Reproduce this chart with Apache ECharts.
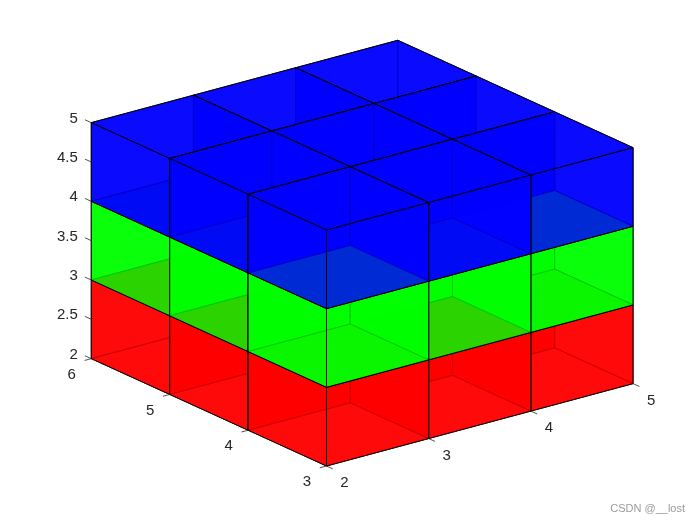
<!DOCTYPE html>
<html><head><meta charset="utf-8">
<script src="https://cdn.jsdelivr.net/npm/echarts@6/dist/echarts.min.js"></script>
<style>html,body{margin:0;padding:0;background:#fff}#chart{width:700px;height:525px}</style>
</head><body><div id="chart"></div>
<script>
// ---------- data ----------
const xEdges = [2, 3, 4, 5];          // cube boundaries along x
const yEdges = [3, 4, 5, 6];          // cube boundaries along y
const layerZ = [2, 3, 4, 5];          // layer boundaries along z
const layerColors = ['#ff0000', '#00ff00', '#0000ff'];
const xTicks = [2, 3, 4, 5];
const yTicks = [3, 4, 5, 6];
const zTicks = [2, 2.5, 3, 3.5, 4, 4.5, 5];
const xTickLabels = ['2', '3', '4', '5'];
const yTickLabels = ['3', '4', '5', '6'];
const zTickLabels = ['2', '2.5', '3', '3.5', '4', '4.5', '5'];

// ---------- rendering (draw order of coplanar faces between layers, per cell [ix][iy]) ----------
// 1 = top face of the lower layer drawn last, 0 = bottom face of the upper layer drawn last
const seamOrder = {
  1: [[0, 1, 1], [1, 0, 0], [0, 0, 0]],
  2: [[1, 0, 0], [0, 0, 0], [1, 0, 0]]
};

// ---------- view ----------
const AZ = -37.5, EL = 20.5, SCALE = 128.8, ZASPECT = 0.652;
const FACE_ALPHA = 0.8;
const ORIGIN_PX = [326.5, 466];
const TICK_LEN = 7;
const FONT = '15px "Liberation Sans", Arial, Helvetica, sans-serif';
const TXT = '#262626';

const ar = AZ * Math.PI / 180, er = EL * Math.PI / 180;
const ca = Math.cos(ar), sa = Math.sin(ar), ce = Math.cos(er), se = Math.sin(er);
const X0 = xEdges[0], Y0 = yEdges[0], Z0 = layerZ[0];
const XMAX = xEdges[xEdges.length - 1], YMAX = yEdges[yEdges.length - 1], ZMAX = layerZ[layerZ.length - 1];

function project(p) {
  const dx = p[0] - X0, dy = p[1] - Y0, dz = (p[2] - Z0) * ZASPECT;
  return [SCALE * (ca * dx + sa * dy), SCALE * (-sa * se * dx + ca * se * dy + ce * dz)];
}
const D = [sa * ce, -ca * ce, se]; // toward viewer (scaled space)
function depth(p) {
  return D[0] * (p[0] - X0) + D[1] * (p[1] - Y0) + D[2] * (p[2] - Z0) * ZASPECT;
}
function rgba(hex, a) {
  const n = parseInt(hex.slice(1), 16);
  return 'rgba(' + (n >> 16 & 255) + ',' + (n >> 8 & 255) + ',' + (n & 255) + ',' + a + ')';
}

// ---------- faces ----------
const faces = [];
const nL = layerColors.length;
for (let l = 0; l < nL; l++)
  for (let i = 0; i < xEdges.length - 1; i++)
    for (let j = 0; j < yEdges.length - 1; j++) {
      const x0 = xEdges[i], x1 = xEdges[i + 1], y0 = yEdges[j], y1 = yEdges[j + 1], z0 = layerZ[l], z1 = layerZ[l + 1];
      const quads = [
        { n: [-1, 0, 0], p: [[x0, y0, z0], [x0, y1, z0], [x0, y1, z1], [x0, y0, z1]] },
        { n: [1, 0, 0], p: [[x1, y0, z0], [x1, y1, z0], [x1, y1, z1], [x1, y0, z1]] },
        { n: [0, -1, 0], p: [[x0, y0, z0], [x1, y0, z0], [x1, y0, z1], [x0, y0, z1]] },
        { n: [0, 1, 0], p: [[x0, y1, z0], [x1, y1, z0], [x1, y1, z1], [x0, y1, z1]] },
        { n: [0, 0, -1], p: [[x0, y0, z0], [x1, y0, z0], [x1, y1, z0], [x0, y1, z0]] },
        { n: [0, 0, 1], p: [[x0, y0, z1], [x1, y0, z1], [x1, y1, z1], [x0, y1, z1]] }
      ];
      quads.forEach(q => {
        const c = [0, 1, 2].map(k => (q.p[0][k] + q.p[1][k] + q.p[2][k] + q.p[3][k]) / 4);
        let tie = D[0] * q.n[0] + D[1] * q.n[1] + D[2] * q.n[2];
        if (q.n[2] === 1 && l < nL - 1) tie = seamOrder[l + 1][i][j] ? 1 : -1;
        if (q.n[2] === -1 && l > 0) tie = seamOrder[l][i][j] ? -1 : 1;
        faces.push({ pts: q.p, color: layerColors[l], d: depth(c) + 1e-3 * tie, c: c });
      });
    }
faces.sort((a, b) => a.d - b.d);

// ---------- extents ----------
const corners = [];
[X0, XMAX].forEach(x => [Y0, YMAX].forEach(y => [Z0, ZMAX].forEach(z => corners.push(project([x, y, z])))));
const uMin = Math.min(...corners.map(c => c[0])), uMax = Math.max(...corners.map(c => c[0]));
const vMin = Math.min(...corners.map(c => c[1])), vMax = Math.max(...corners.map(c => c[1]));

// ---------- ticks ----------
function dirPx(vec) {
  const a = project([X0, Y0, Z0]), b = project([X0 + vec[0], Y0 + vec[1], Z0 + vec[2]]);
  const dx = b[0] - a[0], dy = -(b[1] - a[1]); const L = Math.hypot(dx, dy);
  return [dx / L, dy / L];
}
const ticks = [];
xTicks.forEach((t, k) => ticks.push({ p: [t, Y0, Z0], dir: dirPx([0, -1, 0]), label: xTickLabels[k], off: [18, 17], align: 'center' }));
yTicks.forEach((t, k) => ticks.push({ p: [X0, t, Z0], dir: dirPx([-1, 0, 0]), label: yTickLabels[k], off: [-19.5, 16], align: 'center' }));
zTicks.forEach((t, k) => ticks.push({ p: [X0, YMAX, t], dir: dirPx([0, 1, 0]), label: zTickLabels[k], off: [-13.5, -4], align: 'right' }));

const chart = echarts.init(document.getElementById('chart'), null, { renderer: 'canvas' });
chart.setOption({
  animation: false,
  backgroundColor: '#fff',
  grid: { left: ORIGIN_PX[0] + uMin, top: ORIGIN_PX[1] - vMax, width: uMax - uMin, height: vMax - vMin },
  xAxis: { type: 'value', min: uMin, max: uMax, show: false },
  yAxis: { type: 'value', min: vMin, max: vMax, show: false },
  graphic: [{
    type: 'text', right: 15, top: 503,
    style: { text: 'CSDN @__lost', font: '11px "Liberation Sans", Arial, sans-serif', fill: '#9a9a9a' }
  }],
  series: [
    {
      type: 'custom', coordinateSystem: 'cartesian2d', silent: true, clip: false, z: 2,
      data: faces.map((f, k) => { const pc = project(f.c); return [pc[0], pc[1], k]; }),
      encode: { x: 0, y: 1 },
      renderItem: function (params, api) {
        const f = faces[api.value(2)];
        const pts = f.pts.map(p => api.coord(project(p)));
        return {
          type: 'polygon', z2: api.value(2),
          shape: { points: pts },
          style: { fill: rgba(f.color, FACE_ALPHA), stroke: '#000', lineWidth: 0.9 }
        };
      }
    },
    {
      type: 'custom', coordinateSystem: 'cartesian2d', silent: true, clip: false, z: 3,
      data: ticks.map((t, k) => { const pp = project(t.p); return [pp[0], pp[1], k]; }),
      encode: { x: 0, y: 1 },
      renderItem: function (params, api) {
        const t = ticks[api.value(2)];
        const o = api.coord([api.value(0), api.value(1)]);
        return {
          type: 'group',
          children: [
            { type: 'line', shape: { x1: o[0], y1: o[1], x2: o[0] + t.dir[0] * TICK_LEN, y2: o[1] + t.dir[1] * TICK_LEN },
              style: { stroke: TXT, lineWidth: 0.8 } },
            { type: 'text', x: o[0] + t.off[0], y: o[1] + t.off[1],
              style: { text: t.label, font: FONT, fill: TXT, align: t.align, verticalAlign: 'middle' } }
          ]
        };
      }
    }
  ]
});
</script></body></html>
